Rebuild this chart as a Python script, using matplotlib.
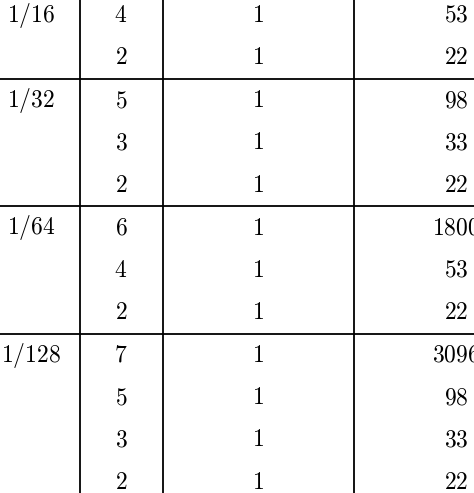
import matplotlib
matplotlib.use("Agg")
import matplotlib.pyplot as plt

plt.rcParams['mathtext.fontset'] = 'cm'

groups = ["1/16", "1/32", "1/64", "1/128"]
col2 = [[4, 2], [5, 3, 2], [6, 4, 2], [7, 5, 3, 2]]
col3 = [[1, 1], [1, 1, 1], [1, 1, 1], [1, 1, 1, 1]]
col4 = [[53, 22], [98, 33, 22], [1800, 53, 22], [3096, 98, 33, 22]]

fig = plt.figure(figsize=(4.74, 4.93), dpi=100)
ax = fig.add_axes([0, 0, 1, 1])
ax.set_xlim(0, 474)
ax.set_ylim(493, 0)
ax.axis('off')

row_h = 42.2
y = 15
fs = 17
for gi, g in enumerate(groups):
    ax.text(31, y, r"$%s$" % g, ha='center', va='center', fontsize=fs)
    for i in range(len(col2[gi])):
        yy = y + i * row_h
        ax.text(121, yy, r"$%d$" % col2[gi][i], ha='center', va='center', fontsize=fs)
        ax.text(258, yy, r"$%d$" % col3[gi][i], ha='center', va='center', fontsize=fs)
        ax.text(456, yy, r"$%d$" % col4[gi][i], ha='center', va='center', fontsize=fs)
    last = y + (len(col2[gi]) - 1) * row_h
    if gi < len(groups) - 1:
        ax.plot([0, 474], [last + 21.5, last + 21.5], color='black', lw=1.3)
    y = last + 43

for x in [80, 163, 354]:
    ax.plot([x, x], [0, 493], color='black', lw=1.3)

fig.savefig("out.png", dpi=100)
